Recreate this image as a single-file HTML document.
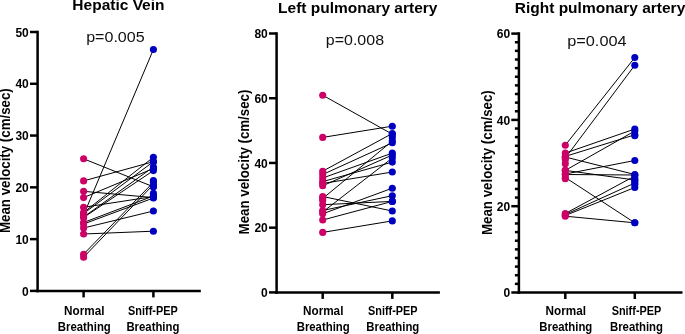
<!DOCTYPE html>
<html><head><meta charset="utf-8"><title>Mean velocity charts</title>
<style>html,body{margin:0;padding:0;background:#fff}svg{display:block}</style></head>
<body>
<svg width="685" height="334" viewBox="0 0 685 334">
<rect width="685" height="334" fill="#fff"/>
<g stroke="#000" stroke-width="2.5" fill="none" stroke-linecap="butt">
<path d="M37.6 30.75V292.15"/>
<path d="M36.35 290.9H200.8"/>
<path d="M30.0 290.90H37.6"/>
<path d="M30.0 239.12H37.6"/>
<path d="M30.0 187.34H37.6"/>
<path d="M30.0 135.56H37.6"/>
<path d="M30.0 83.78H37.6"/>
<path d="M30.0 32.00H37.6"/>
<path d="M83.6 290.9V297.4"/>
<path d="M153.4 290.9V297.4"/>
</g>
<g font-family="'Liberation Sans',Arial,sans-serif" font-weight="bold" font-size="12" text-anchor="end" fill="#000">
<text x="28.8" y="295.50">0</text>
<text x="28.8" y="243.72">10</text>
<text x="28.8" y="191.94">20</text>
<text x="28.8" y="140.16">30</text>
<text x="28.8" y="88.38">40</text>
<text x="28.8" y="36.60">50</text>
</g>
<text transform="translate(10.4 160.6) rotate(-90)" text-anchor="middle" font-family="'Liberation Sans',Arial,sans-serif" font-weight="bold" font-size="14.2" textLength="144.8" lengthAdjust="spacingAndGlyphs" fill="#000">Mean velocity (cm/sec)</text>
<text x="118.45" y="10.3" text-anchor="middle" font-family="'Liberation Sans',Arial,sans-serif" font-weight="bold" font-size="15.5" fill="#000">Hepatic Vein</text>
<text x="115.4" y="42.2" text-anchor="middle" font-family="'Liberation Sans',Arial,sans-serif" font-size="15.3" textLength="58.5" lengthAdjust="spacingAndGlyphs" fill="#111">p=0.005</text>
<g font-family="'Liberation Sans',Arial,sans-serif" font-weight="bold" font-size="12" text-anchor="middle" fill="#000">
<text x="84.3" y="314.5" textLength="40.4" lengthAdjust="spacingAndGlyphs">Normal</text><text x="84.3" y="331.4" textLength="53" lengthAdjust="spacingAndGlyphs">Breathing</text>
<text x="152.9" y="314.5" textLength="49.6" lengthAdjust="spacingAndGlyphs">Sniff-PEP</text><text x="152.9" y="331.4" textLength="53" lengthAdjust="spacingAndGlyphs">Breathing</text>
</g>
<g stroke="#000" stroke-width="1" fill="none">
<path d="M83.6 158.8L153.4 186.8"/>
<path d="M83.6 180.9L153.4 161.7"/>
<path d="M83.6 191.3L153.4 197.6"/>
<path d="M83.6 197.6L153.4 168.5"/>
<path d="M83.6 207.3L153.4 196.5"/>
<path d="M83.6 212.5L153.4 157.2"/>
<path d="M83.6 213.5L153.4 161.7"/>
<path d="M83.6 215L153.4 49.5"/>
<path d="M83.6 217L153.4 167"/>
<path d="M83.6 217.5L153.4 170.6"/>
<path d="M83.6 222.5L153.4 196"/>
<path d="M83.6 224L153.4 198"/>
<path d="M83.6 228L153.4 211"/>
<path d="M83.6 234L153.4 231.2"/>
<path d="M83.6 254.2L153.4 182.2"/>
<path d="M83.6 257.2L153.4 184.6"/>
</g>
<g fill="#CC0066">
<circle cx="83.6" cy="158.8" r="3.55"/>
<circle cx="83.6" cy="180.9" r="3.55"/>
<circle cx="83.6" cy="191.3" r="3.55"/>
<circle cx="83.6" cy="197.6" r="3.55"/>
<circle cx="83.6" cy="207.3" r="3.55"/>
<circle cx="83.6" cy="212.5" r="3.55"/>
<circle cx="83.6" cy="213.5" r="3.55"/>
<circle cx="83.6" cy="215" r="3.55"/>
<circle cx="83.6" cy="217" r="3.55"/>
<circle cx="83.6" cy="217.5" r="3.55"/>
<circle cx="83.6" cy="222.5" r="3.55"/>
<circle cx="83.6" cy="224" r="3.55"/>
<circle cx="83.6" cy="228" r="3.55"/>
<circle cx="83.6" cy="234" r="3.55"/>
<circle cx="83.6" cy="254.2" r="3.55"/>
<circle cx="83.6" cy="257.2" r="3.55"/>
</g>
<g fill="#0000C0">
<circle cx="153.4" cy="186.8" r="3.55"/>
<circle cx="153.4" cy="161.7" r="3.55"/>
<circle cx="153.4" cy="197.6" r="3.55"/>
<circle cx="153.4" cy="168.5" r="3.55"/>
<circle cx="153.4" cy="196.5" r="3.55"/>
<circle cx="153.4" cy="157.2" r="3.55"/>
<circle cx="153.4" cy="161.7" r="3.55"/>
<circle cx="153.4" cy="49.5" r="3.55"/>
<circle cx="153.4" cy="167" r="3.55"/>
<circle cx="153.4" cy="170.6" r="3.55"/>
<circle cx="153.4" cy="196" r="3.55"/>
<circle cx="153.4" cy="198" r="3.55"/>
<circle cx="153.4" cy="211" r="3.55"/>
<circle cx="153.4" cy="231.2" r="3.55"/>
<circle cx="153.4" cy="182.2" r="3.55"/>
<circle cx="153.4" cy="184.6" r="3.55"/>
<circle cx="153.4" cy="180.5" r="3.55"/>
<circle cx="153.4" cy="186.8" r="3.55"/>
<circle cx="153.4" cy="193.3" r="3.55"/>
</g>
<g stroke="#000" stroke-width="2.5" fill="none" stroke-linecap="butt">
<path d="M276.6 32.25V293.65"/>
<path d="M275.35 292.4H439.9"/>
<path d="M269.0 292.40H276.6"/>
<path d="M269.0 227.67H276.6"/>
<path d="M269.0 162.95H276.6"/>
<path d="M269.0 98.22H276.6"/>
<path d="M269.0 33.50H276.6"/>
<path d="M322.7 292.4V298.9"/>
<path d="M392.3 292.4V298.9"/>
</g>
<g font-family="'Liberation Sans',Arial,sans-serif" font-weight="bold" font-size="12" text-anchor="end" fill="#000">
<text x="267.8" y="297.00">0</text>
<text x="267.8" y="232.27">20</text>
<text x="267.8" y="167.55">40</text>
<text x="267.8" y="102.82">60</text>
<text x="267.8" y="38.10">80</text>
</g>
<text transform="translate(249.1 162) rotate(-90)" text-anchor="middle" font-family="'Liberation Sans',Arial,sans-serif" font-weight="bold" font-size="14.2" textLength="144.8" lengthAdjust="spacingAndGlyphs" fill="#000">Mean velocity (cm/sec)</text>
<text x="357.8" y="12.7" text-anchor="middle" font-family="'Liberation Sans',Arial,sans-serif" font-weight="bold" font-size="15.5" fill="#000">Left pulmonary artery</text>
<text x="354.9" y="44.9" text-anchor="middle" font-family="'Liberation Sans',Arial,sans-serif" font-size="15.3" textLength="58.3" lengthAdjust="spacingAndGlyphs" fill="#111">p=0.008</text>
<g font-family="'Liberation Sans',Arial,sans-serif" font-weight="bold" font-size="12" text-anchor="middle" fill="#000">
<text x="323.2" y="314.5" textLength="40.4" lengthAdjust="spacingAndGlyphs">Normal</text><text x="323.2" y="331.4" textLength="53" lengthAdjust="spacingAndGlyphs">Breathing</text>
<text x="392.8" y="314.5" textLength="49.6" lengthAdjust="spacingAndGlyphs">Sniff-PEP</text><text x="392.8" y="331.4" textLength="53" lengthAdjust="spacingAndGlyphs">Breathing</text>
</g>
<g stroke="#000" stroke-width="1" fill="none">
<path d="M322.7 95.2L392.3 134.2"/>
<path d="M322.7 137.4L392.3 126.2"/>
<path d="M322.7 171.2L392.3 133.5"/>
<path d="M322.7 174.5L392.3 142.8"/>
<path d="M322.7 178L392.3 153.1"/>
<path d="M322.7 181.6L392.3 162.1"/>
<path d="M322.7 183.5L392.3 172"/>
<path d="M322.7 185.8L392.3 155"/>
<path d="M322.7 196.5L392.3 211"/>
<path d="M322.7 198.5L392.3 141"/>
<path d="M322.7 204.7L392.3 201.4"/>
<path d="M322.7 210.5L392.3 195.7"/>
<path d="M322.7 212L392.3 158"/>
<path d="M322.7 213.8L392.3 188.2"/>
<path d="M322.7 220L392.3 201.4"/>
<path d="M322.7 232.4L392.3 220.9"/>
</g>
<g fill="#CC0066">
<circle cx="322.7" cy="95.2" r="3.55"/>
<circle cx="322.7" cy="137.4" r="3.55"/>
<circle cx="322.7" cy="171.2" r="3.55"/>
<circle cx="322.7" cy="174.5" r="3.55"/>
<circle cx="322.7" cy="178" r="3.55"/>
<circle cx="322.7" cy="181.6" r="3.55"/>
<circle cx="322.7" cy="183.5" r="3.55"/>
<circle cx="322.7" cy="185.8" r="3.55"/>
<circle cx="322.7" cy="196.5" r="3.55"/>
<circle cx="322.7" cy="198.5" r="3.55"/>
<circle cx="322.7" cy="204.7" r="3.55"/>
<circle cx="322.7" cy="210.5" r="3.55"/>
<circle cx="322.7" cy="212" r="3.55"/>
<circle cx="322.7" cy="213.8" r="3.55"/>
<circle cx="322.7" cy="220" r="3.55"/>
<circle cx="322.7" cy="232.4" r="3.55"/>
<circle cx="322.7" cy="200.6" r="3.55"/>
</g>
<g fill="#0000C0">
<circle cx="392.3" cy="134.2" r="3.55"/>
<circle cx="392.3" cy="126.2" r="3.55"/>
<circle cx="392.3" cy="133.5" r="3.55"/>
<circle cx="392.3" cy="142.8" r="3.55"/>
<circle cx="392.3" cy="153.1" r="3.55"/>
<circle cx="392.3" cy="162.1" r="3.55"/>
<circle cx="392.3" cy="172" r="3.55"/>
<circle cx="392.3" cy="155" r="3.55"/>
<circle cx="392.3" cy="211" r="3.55"/>
<circle cx="392.3" cy="141" r="3.55"/>
<circle cx="392.3" cy="201.4" r="3.55"/>
<circle cx="392.3" cy="195.7" r="3.55"/>
<circle cx="392.3" cy="158" r="3.55"/>
<circle cx="392.3" cy="188.2" r="3.55"/>
<circle cx="392.3" cy="201.4" r="3.55"/>
<circle cx="392.3" cy="220.9" r="3.55"/>
<circle cx="392.3" cy="137.4" r="3.55"/>
</g>
<g stroke="#000" stroke-width="2.5" fill="none" stroke-linecap="butt">
<path d="M518.9 32.35V293.75"/>
<path d="M517.65 292.5H682.5"/>
<path d="M511.29999999999995 292.50H518.9"/>
<path d="M511.29999999999995 206.20H518.9"/>
<path d="M511.29999999999995 119.90H518.9"/>
<path d="M511.29999999999995 33.60H518.9"/>
<path d="M514.9 283.87H518.9"/>
<path d="M514.9 275.24H518.9"/>
<path d="M514.9 266.61H518.9"/>
<path d="M514.9 257.98H518.9"/>
<path d="M514.9 249.35H518.9"/>
<path d="M514.9 240.72H518.9"/>
<path d="M514.9 232.09H518.9"/>
<path d="M514.9 223.46H518.9"/>
<path d="M514.9 214.83H518.9"/>
<path d="M514.9 197.57H518.9"/>
<path d="M514.9 188.94H518.9"/>
<path d="M514.9 180.31H518.9"/>
<path d="M514.9 171.68H518.9"/>
<path d="M514.9 163.05H518.9"/>
<path d="M514.9 154.42H518.9"/>
<path d="M514.9 145.79H518.9"/>
<path d="M514.9 137.16H518.9"/>
<path d="M514.9 128.53H518.9"/>
<path d="M514.9 111.27H518.9"/>
<path d="M514.9 102.64H518.9"/>
<path d="M514.9 94.01H518.9"/>
<path d="M514.9 85.38H518.9"/>
<path d="M514.9 76.75H518.9"/>
<path d="M514.9 68.12H518.9"/>
<path d="M514.9 59.49H518.9"/>
<path d="M514.9 50.86H518.9"/>
<path d="M514.9 42.23H518.9"/>
<path d="M565.3 292.5V299.0"/>
<path d="M634.8 292.5V299.0"/>
</g>
<g font-family="'Liberation Sans',Arial,sans-serif" font-weight="bold" font-size="12" text-anchor="end" fill="#000">
<text x="510.09999999999997" y="297.10">0</text>
<text x="510.09999999999997" y="210.80">20</text>
<text x="510.09999999999997" y="124.50">40</text>
<text x="510.09999999999997" y="38.20">60</text>
</g>
<text transform="translate(491.5 162.6) rotate(-90)" text-anchor="middle" font-family="'Liberation Sans',Arial,sans-serif" font-weight="bold" font-size="14.2" textLength="144.8" lengthAdjust="spacingAndGlyphs" fill="#000">Mean velocity (cm/sec)</text>
<text x="600.0" y="12.8" text-anchor="middle" font-family="'Liberation Sans',Arial,sans-serif" font-weight="bold" font-size="15.5" fill="#000">Right pulmonary artery</text>
<text x="596.9" y="46.2" text-anchor="middle" font-family="'Liberation Sans',Arial,sans-serif" font-size="15.3" textLength="59.5" lengthAdjust="spacingAndGlyphs" fill="#111">p=0.004</text>
<g font-family="'Liberation Sans',Arial,sans-serif" font-weight="bold" font-size="12" text-anchor="middle" fill="#000">
<text x="565.8" y="314.5" textLength="40.4" lengthAdjust="spacingAndGlyphs">Normal</text><text x="565.8" y="331.4" textLength="53" lengthAdjust="spacingAndGlyphs">Breathing</text>
<text x="636.5" y="314.5" textLength="49.6" lengthAdjust="spacingAndGlyphs">Sniff-PEP</text><text x="636.5" y="331.4" textLength="53" lengthAdjust="spacingAndGlyphs">Breathing</text>
</g>
<g stroke="#000" stroke-width="1" fill="none">
<path d="M565.3 145.2L634.8 57.5"/>
<path d="M565.3 158L634.8 65.2"/>
<path d="M565.3 153.1L634.8 129"/>
<path d="M565.3 156.4L634.8 134.8"/>
<path d="M565.3 170.4L634.8 131"/>
<path d="M565.3 157L634.8 174.5"/>
<path d="M565.3 174L634.8 160.5"/>
<path d="M565.3 170.4L634.8 180"/>
<path d="M565.3 174.5L634.8 175"/>
<path d="M565.3 177.5L634.8 222.8"/>
<path d="M565.3 213.5L634.8 176"/>
<path d="M565.3 214.5L634.8 183"/>
<path d="M565.3 215.5L634.8 187.5"/>
<path d="M565.3 216.2L634.8 222.8"/>
</g>
<g fill="#CC0066">
<circle cx="565.3" cy="145.2" r="3.55"/>
<circle cx="565.3" cy="158" r="3.55"/>
<circle cx="565.3" cy="153.1" r="3.55"/>
<circle cx="565.3" cy="156.4" r="3.55"/>
<circle cx="565.3" cy="170.4" r="3.55"/>
<circle cx="565.3" cy="157" r="3.55"/>
<circle cx="565.3" cy="174" r="3.55"/>
<circle cx="565.3" cy="170.4" r="3.55"/>
<circle cx="565.3" cy="174.5" r="3.55"/>
<circle cx="565.3" cy="177.5" r="3.55"/>
<circle cx="565.3" cy="213.5" r="3.55"/>
<circle cx="565.3" cy="214.5" r="3.55"/>
<circle cx="565.3" cy="215.5" r="3.55"/>
<circle cx="565.3" cy="216.2" r="3.55"/>
<circle cx="565.3" cy="159.7" r="3.55"/>
<circle cx="565.3" cy="163.8" r="3.55"/>
<circle cx="565.3" cy="178.7" r="3.55"/>
</g>
<g fill="#0000C0">
<circle cx="634.8" cy="57.5" r="3.55"/>
<circle cx="634.8" cy="65.2" r="3.55"/>
<circle cx="634.8" cy="129" r="3.55"/>
<circle cx="634.8" cy="134.8" r="3.55"/>
<circle cx="634.8" cy="131" r="3.55"/>
<circle cx="634.8" cy="174.5" r="3.55"/>
<circle cx="634.8" cy="160.5" r="3.55"/>
<circle cx="634.8" cy="180" r="3.55"/>
<circle cx="634.8" cy="175" r="3.55"/>
<circle cx="634.8" cy="222.8" r="3.55"/>
<circle cx="634.8" cy="176" r="3.55"/>
<circle cx="634.8" cy="183" r="3.55"/>
<circle cx="634.8" cy="187.5" r="3.55"/>
<circle cx="634.8" cy="222.8" r="3.55"/>
<circle cx="634.8" cy="178.7" r="3.55"/>
<circle cx="634.8" cy="135.8" r="3.55"/>
<circle cx="634.8" cy="181" r="3.55"/>
<circle cx="634.8" cy="184.5" r="3.55"/>
</g>
</svg>
</body></html>
